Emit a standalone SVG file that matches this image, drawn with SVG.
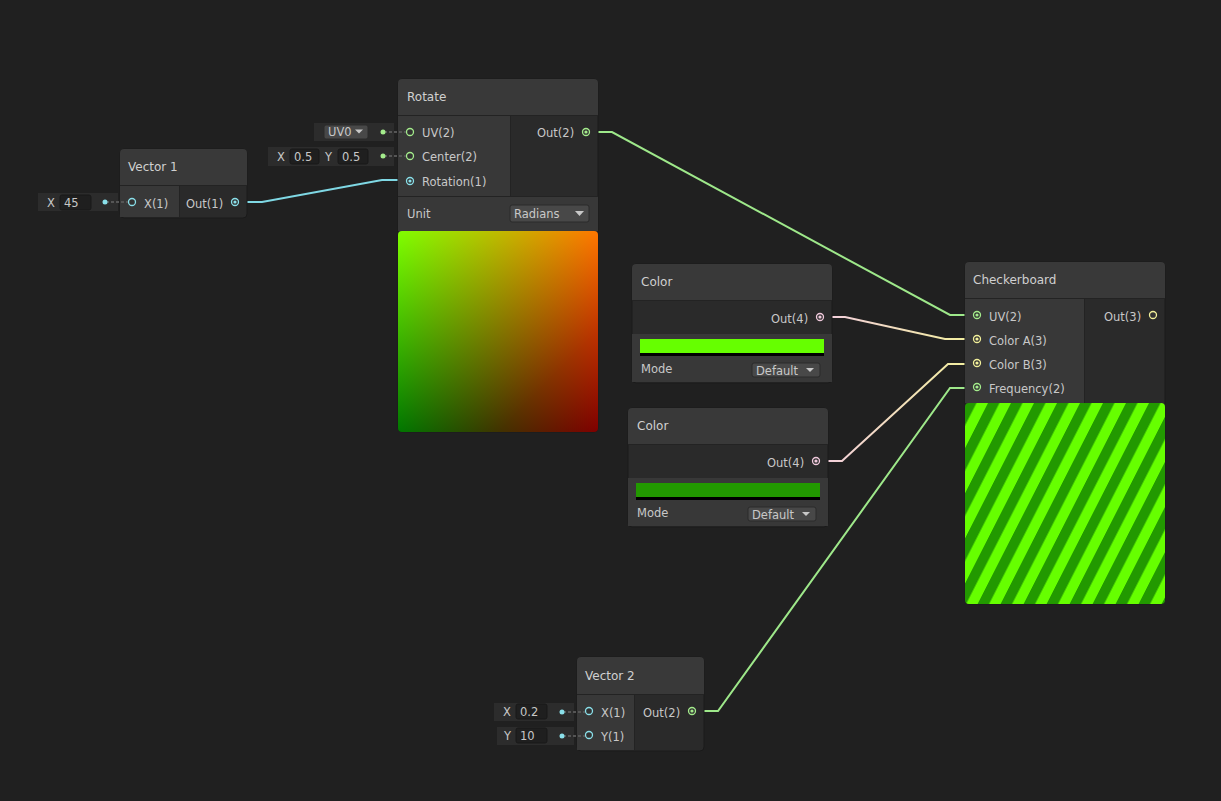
<svg xmlns="http://www.w3.org/2000/svg" width="1221" height="801" viewBox="0 0 1221 801">
<style>
text{font-family:"DejaVu Sans","Liberation Sans",sans-serif;font-size:11.5px;fill:#c8c8c8}
.hd{font-size:12px;fill:#d0d0d0}
.node{fill:#2a2a2a;stroke:#1a1a1a;stroke-width:1}
.head{fill:#393939}
.inp{fill:#383838}
.sep{stroke:#232323;stroke-width:1}
.fld{fill:#2c2c2c}
.box{fill:#1f1f1f;stroke:#191919}
.drop{fill:#484848;stroke:#2a2a2a}
.wire{fill:none;stroke-width:2}
.stub{stroke:#555;stroke-width:2}
.pg{fill:#333;stroke:#a4ec8c;stroke-width:1.3}
.pc{fill:#333;stroke:#8ae0ea;stroke-width:1.3}
.py{fill:#333;stroke:#f2f09a;stroke-width:1.3}
.pp{fill:#333;stroke:#f0c9dc;stroke-width:1.3}
</style>
<defs>
<linearGradient id="gr" x1="0" y1="1" x2="1" y2="0"><stop offset="0" stop-color="#000"/><stop offset="1" stop-color="#ff0000"/></linearGradient>
<linearGradient id="gg" x1="1" y1="1" x2="0" y2="0"><stop offset="0" stop-color="#000"/><stop offset="0.25" stop-color="#003300"/><stop offset="1" stop-color="#00ff00"/></linearGradient>
<pattern id="stripes" width="23" height="400" patternUnits="userSpaceOnUse" patternTransform="translate(965,403) skewX(-27)">
<rect width="23" height="400" fill="#66ff00"/><rect width="11.5" height="400" fill="#229900"/>
</pattern>
<linearGradient id="w1" gradientUnits="userSpaceOnUse" x1="820" y1="0" x2="977" y2="0"><stop offset="0" stop-color="#f3cde0"/><stop offset="1" stop-color="#f2f09a"/></linearGradient>
<linearGradient id="w2" gradientUnits="userSpaceOnUse" x1="816" y1="0" x2="977" y2="0"><stop offset="0" stop-color="#f3cde0"/><stop offset="1" stop-color="#f2f09a"/></linearGradient>
<clipPath id="cr"><rect x="398" y="231" width="200" height="201" rx="4"/></clipPath>
<clipPath id="cc"><rect x="965" y="403" width="200" height="201" rx="4"/></clipPath>
</defs>
<rect width="1221" height="801" fill="#202020"/>

<g id="connectors">
<path class="wire" stroke="#7fd8e4" d="M235,202 H262 L382,180 H410"/>
<path class="wire" stroke="#9ee88a" d="M586,132 H612 L950,315 H977"/>
<path class="wire" stroke="url(#w1)" d="M820,317 H845 L945,339 H977"/>
<path class="wire" stroke="url(#w2)" d="M816,461 H842 L948,364 H977"/>
<path class="wire" stroke="#9ee88a" d="M692,711 H718 L950,388 H977"/>
</g>

<g id="rotate">
<rect class="node" x="398" y="79" width="200" height="353" rx="4"/>
<path class="head" d="M402,79 H594 Q598,79 598,83 V115 H398 V83 Q398,79 402,79Z"/>
<text class="hd" x="407" y="101">Rotate</text>
<rect class="inp" x="398" y="116" width="112" height="80"/>
<line class="sep" x1="398" y1="115.5" x2="598" y2="115.5"/>
<line class="sep" x1="510.5" y1="116" x2="510.5" y2="196"/>
<rect class="inp" x="398" y="197" width="200" height="34"/>
<line class="sep" x1="398" y1="196.5" x2="598" y2="196.5"/>
<text x="407" y="218">Unit</text>
<rect class="drop" x="510" y="205" width="79" height="17" rx="2"/>
<text x="514" y="218">Radians</text>
<path d="M575,211 h9 l-4.5,5z" fill="#c8c8c8"/>
<text x="422" y="137">UV(2)</text>
<text x="422" y="161">Center(2)</text>
<text x="422" y="186">Rotation(1)</text>
<text x="537" y="137">Out(2)</text>
<circle class="pg" cx="410" cy="132" r="3.5"/>
<circle class="pg" cx="410" cy="156" r="3.5"/>
<circle class="pc" cx="410" cy="181" r="3.5"/><circle cx="410" cy="181" r="1.6" fill="#8ae0ea"/>
<circle class="pg" cx="586" cy="132" r="3.5"/><circle cx="586" cy="132" r="1.6" fill="#a4ec8c"/>
<g clip-path="url(#cr)">
<rect x="398" y="231" width="200" height="201" fill="url(#gr)"/>
<rect x="398" y="231" width="200" height="201" fill="url(#gg)" style="mix-blend-mode:screen"/>
</g>
</g>

<g id="rotate-inputs">
<rect class="fld" x="314" y="123" width="80" height="18"/>
<rect class="drop" x="324" y="125" width="44" height="14" rx="2"/>
<text x="328" y="136">UV0</text>
<path d="M355,129.5 h8 l-4,4z" fill="#c8c8c8"/>
<line class="stub" x1="384" y1="132" x2="406" y2="132" stroke-dasharray="3,2"/>
<circle cx="383" cy="132" r="2.5" fill="#a4ec8c"/>
<rect class="fld" x="268" y="147" width="126" height="19"/>
<text x="277" y="161">X</text>
<rect class="box" x="290" y="149" width="29" height="15" rx="2"/>
<text x="294" y="161">0.5</text>
<text x="325" y="161">Y</text>
<rect class="box" x="338" y="149" width="30" height="15" rx="2"/>
<text x="342" y="161">0.5</text>
<line class="stub" x1="384" y1="156" x2="406" y2="156" stroke-dasharray="3,2"/>
<circle cx="383" cy="156" r="2.5" fill="#a4ec8c"/>
</g>

<g id="vector1">
<rect class="node" x="120" y="149" width="127" height="69" rx="4"/>
<path class="head" d="M124,149 H243 Q247,149 247,153 V185 H120 V153 Q120,149 124,149Z"/>
<text class="hd" x="128" y="171">Vector 1</text>
<rect class="inp" x="120" y="186" width="59" height="31"/>
<line class="sep" x1="120" y1="185.5" x2="247" y2="185.5"/>
<line class="sep" x1="179.5" y1="186" x2="179.5" y2="217"/>
<text x="144" y="208">X(1)</text>
<text x="186" y="208">Out(1)</text>
<circle class="pc" cx="132" cy="202" r="3.5"/>
<circle class="pc" cx="235" cy="202" r="3.5"/><circle cx="235" cy="202" r="1.6" fill="#8ae0ea"/>
<rect class="fld" x="38" y="193" width="80" height="18"/>
<text x="47" y="207">X</text>
<rect class="box" x="60" y="195" width="31" height="15" rx="2"/>
<text x="64" y="207">45</text>
<line class="stub" x1="106" y1="202" x2="128" y2="202" stroke-dasharray="3,2"/>
<circle cx="105" cy="202" r="2.5" fill="#8ae0ea"/>
</g>

<g id="color1">
<rect class="node" x="632" y="264" width="200" height="119" rx="4"/>
<path class="head" d="M636,264 H828 Q832,264 832,268 V300 H632 V268 Q632,264 636,264Z"/>
<text class="hd" x="641" y="286">Color</text>
<line class="sep" x1="632" y1="300.5" x2="832" y2="300.5"/>
<text x="771" y="323">Out(4)</text>
<circle class="pp" cx="820" cy="317" r="3.5"/><circle cx="820" cy="317" r="1.6" fill="#f0c9dc"/>
<rect class="inp" x="632" y="334" width="200" height="48"/>
<rect x="640" y="339" width="184" height="14" fill="#66ff00"/>
<rect x="640" y="353" width="184" height="3" fill="#000"/>
<text x="641" y="373">Mode</text>
<rect class="drop" x="752" y="363" width="68" height="14" rx="2"/>
<text x="756" y="375">Default</text>
<path d="M806,368 h8 l-4,4z" fill="#c8c8c8"/>
</g>

<g id="color2">
<rect class="node" x="628" y="408" width="200" height="119" rx="4"/>
<path class="head" d="M632,408 H824 Q828,408 828,412 V444 H628 V412 Q628,408 632,408Z"/>
<text class="hd" x="637" y="430">Color</text>
<line class="sep" x1="628" y1="444.5" x2="828" y2="444.5"/>
<text x="767" y="467">Out(4)</text>
<circle class="pp" cx="816" cy="461" r="3.5"/><circle cx="816" cy="461" r="1.6" fill="#f0c9dc"/>
<rect class="inp" x="628" y="478" width="200" height="48"/>
<rect x="636" y="483" width="184" height="14" fill="#229900"/>
<rect x="636" y="497" width="184" height="3" fill="#000"/>
<text x="637" y="517">Mode</text>
<rect class="drop" x="748" y="507" width="68" height="14" rx="2"/>
<text x="752" y="519">Default</text>
<path d="M802,512 h8 l-4,4z" fill="#c8c8c8"/>
</g>

<g id="checkerboard">
<rect class="node" x="965" y="262" width="200" height="342" rx="4"/>
<path class="head" d="M969,262 H1161 Q1165,262 1165,266 V298 H965 V266 Q965,262 969,262Z"/>
<text class="hd" x="973" y="284">Checkerboard</text>
<rect class="inp" x="965" y="299" width="119" height="104"/>
<line class="sep" x1="965" y1="298.5" x2="1165" y2="298.5"/>
<line class="sep" x1="1084.5" y1="299" x2="1084.5" y2="403"/>
<text x="989" y="321">UV(2)</text>
<text x="989" y="345">Color A(3)</text>
<text x="989" y="369">Color B(3)</text>
<text x="989" y="393">Frequency(2)</text>
<text x="1104" y="321">Out(3)</text>
<circle class="pg" cx="977" cy="315" r="3.5"/><circle cx="977" cy="315" r="1.6" fill="#a4ec8c"/>
<circle class="py" cx="977" cy="339" r="3.5"/><circle cx="977" cy="339" r="1.6" fill="#f2f09a"/>
<circle class="py" cx="977" cy="363" r="3.5"/><circle cx="977" cy="363" r="1.6" fill="#f2f09a"/>
<circle class="pg" cx="977" cy="387" r="3.5"/><circle cx="977" cy="387" r="1.6" fill="#a4ec8c"/>
<circle class="py" cx="1153" cy="315" r="3.5"/>
<rect x="965" y="403" width="200" height="201" fill="url(#stripes)" clip-path="url(#cc)"/>
</g>

<g id="vector2">
<rect class="node" x="577" y="657" width="127" height="94" rx="4"/>
<path class="head" d="M581,657 H700 Q704,657 704,661 V694 H577 V661 Q577,657 581,657Z"/>
<text class="hd" x="585" y="680">Vector 2</text>
<rect class="inp" x="577" y="695" width="57" height="55"/>
<line class="sep" x1="577" y1="694.5" x2="704" y2="694.5"/>
<line class="sep" x1="634.5" y1="695" x2="634.5" y2="750"/>
<text x="601" y="717">X(1)</text>
<text x="601" y="741">Y(1)</text>
<text x="643" y="717">Out(2)</text>
<circle class="pc" cx="589" cy="711" r="3.5"/>
<circle class="pc" cx="589" cy="735" r="3.5"/>
<circle class="pg" cx="692" cy="711" r="3.5"/><circle cx="692" cy="711" r="1.6" fill="#a4ec8c"/>
<rect class="fld" x="494" y="703" width="80" height="18"/>
<text x="503" y="716">X</text>
<rect class="box" x="516" y="704" width="31" height="15" rx="2"/>
<text x="520" y="716">0.2</text>
<line class="stub" x1="563" y1="712" x2="585" y2="712" stroke-dasharray="3,2"/>
<circle cx="562" cy="712" r="2.5" fill="#8ae0ea"/>
<rect class="fld" x="497" y="727" width="77" height="18"/>
<text x="504" y="740">Y</text>
<rect class="box" x="516" y="728" width="31" height="15" rx="2"/>
<text x="520" y="740">10</text>
<line class="stub" x1="563" y1="736" x2="585" y2="736" stroke-dasharray="3,2"/>
<circle cx="562" cy="736" r="2.5" fill="#8ae0ea"/>
</g>
</svg>
